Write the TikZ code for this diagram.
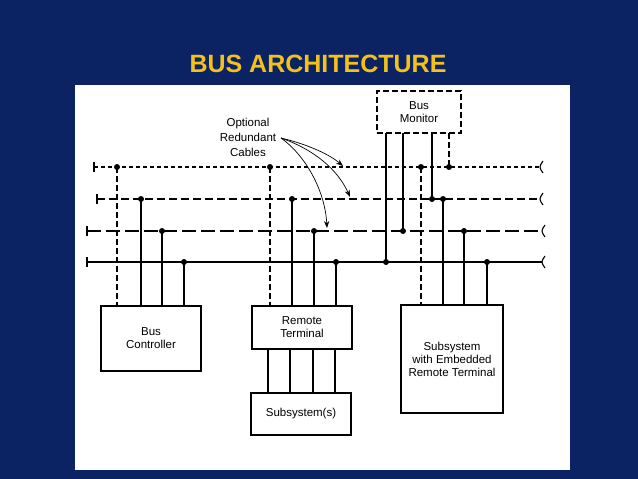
\documentclass[tikz,border=0pt]{standalone}
\usepackage{fontspec}
\setmainfont{Liberation Sans}
\usetikzlibrary{arrows.meta}
\definecolor{navy}{HTML}{0B2263}
\definecolor{gold}{HTML}{F2C21B}
\begin{document}
\begin{tikzpicture}[x=1pt,y=-1pt,
  box/.style={draw,line width=1.3pt,inner sep=0pt,font=\fontsize{11.5}{13}\selectfont,align=center},
  dbus/.style={line width=1.5pt},
  stub/.style={line width=1.3pt},
  dsh/.style={dash pattern=on 6pt off 3pt},
  dot/.style={circle,fill,inner sep=0pt,minimum size=6pt},
  lbl/.style={font=\fontsize{11.5}{15}\selectfont,align=center}]
\fill[navy] (0,0) rectangle (638,479);
\useasboundingbox (0,0) rectangle (638,479);
\fill[white] (75,85) rectangle (570,470);
\node[font=\bfseries\fontsize{25}{28}\selectfont,text=gold] (title) at (318,64) {BUS ARCHITECTURE};
% buses
\draw[dbus,dash pattern=on 4pt off 3pt] (94,167) -- (540,167);
\draw[dbus,dash pattern=on 8pt off 4pt] (97,199) -- (540,199);
\draw[dbus,dash pattern=on 14pt off 5pt] (87,231) -- (542,231);
\draw[dbus] (87,262) -- (542,262);
\foreach \y/\x/\r in {167/94/541,199/97/541,231/87/543,262/87/543}{
  \draw[line width=1.1pt] (\x,\y-5) -- (\x,\y+5);
  \draw[line width=1.1pt] (\r+2,\y-6) .. controls (\r-2,\y) .. (\r+2,\y+6);}
% boxes
\node[box,minimum width=100pt,minimum height=65pt] (bc) at (151,338.5) {Bus\\Controller};
\node[box,minimum width=100pt,minimum height=43pt] (rt) at (302,327.5) {Remote\\Terminal};
\node[box,minimum width=100pt,minimum height=42pt] (ss) at (301,414) {Subsystem(s)};
\node[box,minimum width=102pt,minimum height=108pt] (se) at (452,359) {Subsystem\\with Embedded\\Remote Terminal};
\node[box,dsh,minimum width=84pt,minimum height=42pt] (bm) at (419,112) {Bus\\Monitor};
% stubs
\foreach \x/\y/\s in {117/167/dsh,141/199/solid,162/231/solid,184/262/solid}{
  \draw[stub,\s] (\x,\y) -- (\x,306); \node[dot] at (\x,\y) {};}
\foreach \x/\y/\s in {270/167/dsh,292/199/solid,314/231/solid,336/262/solid}{
  \draw[stub,\s] (\x,\y) -- (\x,306); \node[dot] at (\x,\y) {};}
\foreach \x/\y/\s in {421/167/dsh,443/199/solid,464/231/solid,487/262/solid}{
  \draw[stub,\s] (\x,\y) -- (\x,305); \node[dot] at (\x,\y) {};}
\foreach \x/\y/\s in {386/262/solid,403/231/solid,432/199/solid,449/167/dsh}{
  \draw[stub,\s] (\x,133) -- (\x,\y); \node[dot] at (\x,\y) {};}
\foreach \x in {268,290,313,335}{\draw[stub] (\x,349) -- (\x,393);}
% label
\node[lbl] (opt) at (248,137) {Optional\\Redundant\\Cables};
\coordinate (o) at (281,138);
\draw[-{Stealth[length=7pt]},line width=0.7pt] (o) .. controls (310,145) and (330,155) .. (343,166);
\draw[-{Stealth[length=7pt]},line width=0.7pt] (o) .. controls (315,150) and (338,170) .. (350,197);
\draw[-{Stealth[length=7pt]},line width=0.7pt] (o) .. controls (305,155) and (325,190) .. (327,228);
\end{tikzpicture}
\end{document}
